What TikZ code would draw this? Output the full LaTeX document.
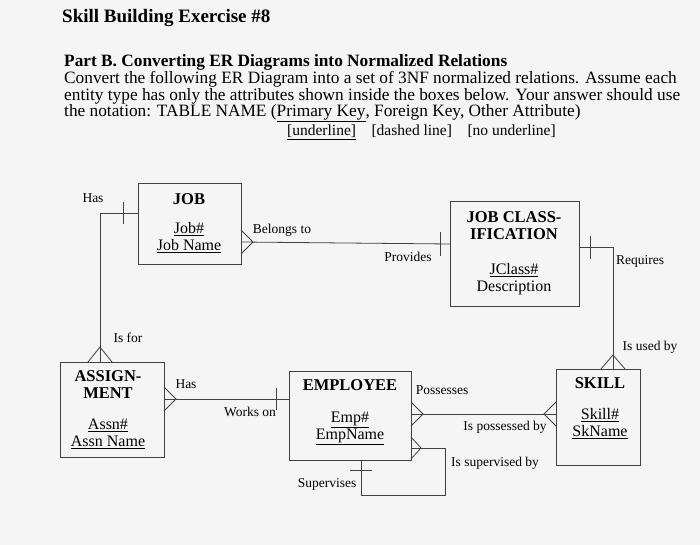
\documentclass[tikz,border=0pt]{standalone}
\usepackage{fontspec}
\setmainfont{Liberation Serif}
\usetikzlibrary{calc}
\tikzset{
 ent/.style={draw=black!75,line width=0.7pt,fill=none},
 rel/.style={draw=black!75,line width=0.8pt},
 lbl/.style={font=\fontsize{13.5}{14}\selectfont,inner sep=1pt},
 hd/.style={anchor=west,inner sep=0pt,font=\fontsize{17.3}{18}\selectfont},
 tt/.style={font=\fontsize{16.5}{17}\selectfont\bfseries,align=center,inner sep=0pt},
 attr/.style={font=\fontsize{16}{17}\selectfont,inner sep=0pt,align=center},
}
\newcommand{\ul}[1]{\underline{#1}}
\begin{document}
\begin{tikzpicture}[x=1pt,y=-1pt]
\fill[gray!8] (0,0) rectangle (700,545);
\useasboundingbox (0,0) rectangle (700,545);
% header
\node[hd,font=\fontsize{19}{20}\selectfont\bfseries] (t0) at (62,18) {Skill Building Exercise \#8};
\node[hd,font=\fontsize{17.3}{18}\selectfont\bfseries] (t1) at (64,62) {Part B. Converting ER Diagrams into Normalized Relations};
\node[hd] (t2) at (64,79) {Convert the following ER Diagram into a set of 3NF normalized relations. Assume each};
\node[hd] (t3) at (64,96) {entity type has only the attributes shown inside the boxes below. Your answer should use};
\node[hd] (t4) at (64,113) {the notation: TABLE NAME (\ul{Primary Key}, Foreign Key, Other Attribute)};
\node[hd,font=\fontsize{15.5}{16}\selectfont] (t5) at (287,132) {\ul{[underline]}\quad [dashed line]\quad [no underline]};
% entities
\draw[ent] (138,183) rectangle (241,264);
\node[tt] (jobt) at (189,199) {JOB};
\node[attr] (jobb) at (189,238) {\ul{Job\#}\\\ul{Job Name}};
\draw[ent] (450,201) rectangle (579,306);
\node[tt] (jc) at (514,226) {JOB CLASS-\\IFICATION};
\node[attr] (jca) at (514,279) {\ul{JClass\#}\\Description};
\draw[ent] (60,362) rectangle (164,457);
\node[tt] (as) at (108,385) {ASSIGN-\\MENT};
\node[attr] (asa) at (108,434) {\ul{Assn\#}\\\ul{Assn Name}};
\draw[ent] (289,371) rectangle (411,460);
\node[tt] (em) at (350,385) {EMPLOYEE};
\node[attr] (ema) at (350,428) {\ul{Emp\#}\\\ul{EmpName}};
\draw[ent] (556,369) rectangle (640,465);
\node[tt] (sk) at (600,383) {SKILL};
\node[attr] (ska) at (600,424) {\ul{Skill\#}\\\ul{SkName}};
% JOB - ASSIGNMENT
\draw[rel] (138,213) -- (100,213) -- (100,362);
\draw[rel] (123,202) -- (123,224);
\draw[rel] (88,362) -- (100,347) -- (112,362);
% JOB - JOBCLASS
\draw[rel] (241,242) -- (450,244);
\draw[rel] (241,230) -- (253,242) -- (241,254);
\draw[rel] (440,232) -- (440,256);
% JOBCLASS - SKILL
\draw[rel] (579,247) -- (613,247) -- (613,369);
\draw[rel] (590,236) -- (590,259);
\draw[rel] (601,369) -- (613,355) -- (625,369);
% ASSIGN - EMP
\draw[rel] (164,399) -- (289,399);
\draw[rel] (164,387) -- (176,399) -- (164,411);
\draw[rel] (276,388) -- (276,410);
% EMP - SKILL
\draw[rel] (411,414) -- (556,414);
\draw[rel] (411,402) -- (423,414) -- (411,426);
\draw[rel] (556,402) -- (544,414) -- (556,426);
% self
\draw[rel] (411,448) -- (445,448) -- (445,495) -- (361,495) -- (361,460);
\draw[rel] (411,437) -- (421,448) -- (411,459);
\draw[rel] (350,470) -- (372,470);
% labels
\node[lbl] (l1) at (93,198) {Has};
\node[lbl] (l2) at (282,230) {Belongs to};
\node[lbl] (l3) at (408,257) {Provides};
\node[lbl] (l4) at (640,261) {Requires};
\node[lbl] (l5) at (128,338) {Is for};
\node[lbl] (l6) at (650,347) {Is used by};
\node[lbl] (l7) at (186,384) {Has};
\node[lbl] (l8) at (250,412) {Works on};
\node[lbl] (l9) at (442,390) {Possesses};
\node[lbl] (l10) at (505,427) {Is possessed by};
\node[lbl] (l11) at (495,463) {Is supervised by};
\node[lbl] (l12) at (327,484) {Supervises};
\end{tikzpicture}
\end{document}
